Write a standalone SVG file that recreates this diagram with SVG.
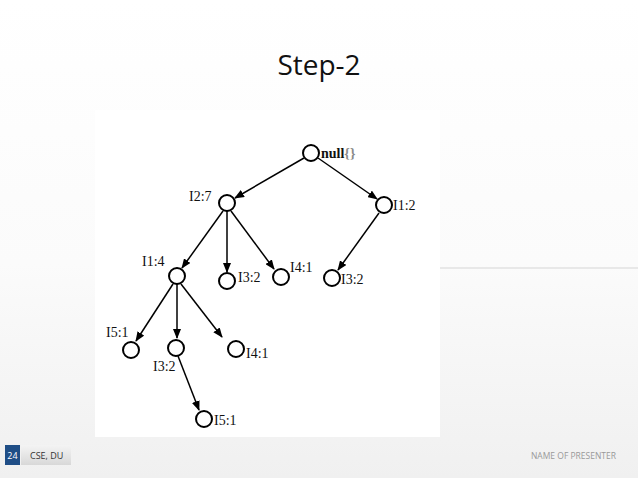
<svg xmlns="http://www.w3.org/2000/svg" width="638" height="478" viewBox="0 0 638 478">
<defs>
<linearGradient id="bg" x1="0" y1="0" x2="0" y2="1"><stop offset="0" stop-color="#ffffff"/><stop offset="0.55" stop-color="#fbfbfb"/><stop offset="1" stop-color="#f0f0f0"/></linearGradient>
<linearGradient id="tab" x1="0" y1="0" x2="0" y2="1"><stop offset="0" stop-color="#f4f4f4"/><stop offset="1" stop-color="#d8d8d8"/></linearGradient>
<marker id="ah" markerWidth="10" markerHeight="8" refX="9" refY="4" orient="auto" markerUnits="userSpaceOnUse"><path d="M0,0 L10,4 L0,8 Z" fill="#000"/></marker>
<style>
.n{fill:#fff;stroke:#000;stroke-width:2}
.t{font-family:"Liberation Serif",serif;font-size:14px;fill:#111}
.e{stroke:#000;stroke-width:1.5;marker-end:url(#ah)}
</style>
</defs>
<rect width="638" height="478" fill="url(#bg)"/>
<line x1="440" y1="268" x2="638" y2="268" stroke="#e2e2e2" stroke-width="1.5"/>
<text x="319" y="75" text-anchor="middle" font-family="Open Sans, sans-serif" font-size="28" fill="#111">Step-2</text>
<rect x="95" y="110" width="345" height="327" fill="#fff"/>
<g id="connectors">
<line class="e" x1="304" y1="158" x2="235" y2="198"/>
<line class="e" x1="318" y1="158" x2="377" y2="199"/>
<line class="e" x1="223" y1="211" x2="182" y2="268"/>
<line class="e" x1="227" y1="211" x2="227" y2="272"/>
<line class="e" x1="231" y1="211" x2="274" y2="269"/>
<line class="e" x1="379" y1="213" x2="338" y2="270"/>
<line class="e" x1="173" y1="284" x2="136" y2="341"/>
<line class="e" x1="177" y1="284" x2="177" y2="338"/>
<line class="e" x1="181" y1="284" x2="222" y2="337"/>
<line class="e" x1="178" y1="356" x2="199" y2="410"/>
</g>
<g id="n-null"><circle class="n" cx="311" cy="153" r="8"/><text class="t" x="321" y="158" font-weight="bold">null<tspan fill="#8a8a8a">{}</tspan></text></g>
<g id="n-i27"><circle class="n" cx="227" cy="203" r="8"/><text class="t" x="189" y="201">I2:7</text></g>
<g id="n-i12"><circle class="n" cx="384" cy="205" r="8"/><text class="t" x="393" y="210">I1:2</text></g>
<g id="n-i14"><circle class="n" cx="177" cy="276" r="8"/><text class="t" x="142" y="266">I1:4</text></g>
<g id="n-i32a"><circle class="n" cx="227" cy="281" r="8"/><text class="t" x="238" y="282">I3:2</text></g>
<g id="n-i41a"><circle class="n" cx="281" cy="277" r="8"/><text class="t" x="290" y="272">I4:1</text></g>
<g id="n-i32b"><circle class="n" cx="332" cy="278" r="8"/><text class="t" x="341" y="284">I3:2</text></g>
<g id="n-i51a"><circle class="n" cx="131" cy="350" r="8"/><text class="t" x="106" y="337">I5:1</text></g>
<g id="n-i32c"><circle class="n" cx="176" cy="348" r="8"/><text class="t" x="153" y="371">I3:2</text></g>
<g id="n-i41b"><circle class="n" cx="236" cy="349" r="8"/><text class="t" x="246" y="358">I4:1</text></g>
<g id="n-i51b"><circle class="n" cx="204" cy="419" r="8"/><text class="t" x="214" y="425">I5:1</text></g>
<rect x="5" y="445" width="15" height="20" fill="#1f4e86"/>
<text x="12.5" y="459" text-anchor="middle" font-family="Open Sans, sans-serif" font-size="9" fill="#fff">24</text>
<rect x="21" y="445" width="50" height="20" fill="url(#tab)"/>
<text x="30" y="459" font-family="Open Sans, sans-serif" font-size="9" fill="#333">CSE, DU</text>
<text x="616" y="459" text-anchor="end" font-family="Open Sans, sans-serif" font-size="8.5" fill="#999">NAME OF PRESENTER</text>
</svg>
